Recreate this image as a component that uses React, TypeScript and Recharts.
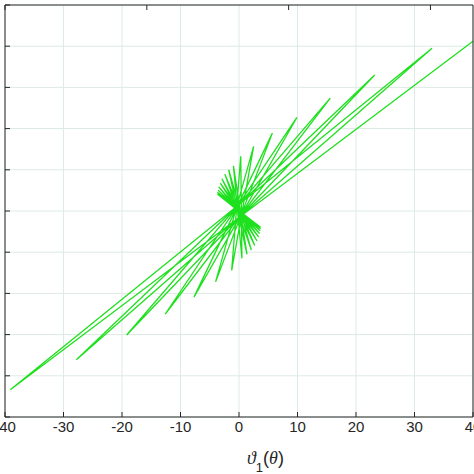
import React from "react";
import { LineChart, Line, XAxis, YAxis, CartesianGrid } from "recharts";

// turning points of the trajectory (in order)
const thetaX = [
  40.0, -39.1, 33.0, -27.8, 23.2, -19.2, 15.6, -12.6, 9.9, -7.7, 5.7, -4.0,
  2.5, -1.25, 0.3, 0.5, -0.95, 1.37, -1.76, 2.11, -2.42, 2.69, -2.93, 3.08,
  -3.2, 3.34, -3.46, 3.52, -3.57, 3.63, -3.68, 3.69, -3.7, 3.69,
];
const thetaY = [
  41.2, -43.4, 39.5, -36.1, 33.0, -30.1, 27.4, -25.0, 22.7, -20.9, 18.9,
  -17.2, 15.7, -14.4, 13.3, -11.5, 10.96, -10.5, 10.01, -9.49, 8.95, -8.39,
  7.82, -7.28, 6.74, -6.3, 5.86, -5.46, 5.06, -4.8, 4.54, -4.32, 4.11, -3.94,
];

const xTicks = [-40, -30, -20, -10, 0, 10, 20, 30, 40];
const yTicks = [-50, -40, -30, -20, -10, 0, 10, 20, 30, 40, 50];

const data = thetaX.map((x, i) => ({ x, y: thetaY[i] }));

const axisColor = "#262626";
const gridColor = "#dcebe4";

const AxisTitle = (props: any) => {
  const vb = props.viewBox || {};
  const x = vb.x + vb.width / 2 + 8;
  return (
    <text x={x} y={464} fill={axisColor} fontSize={18} fontFamily="Liberation Sans, Arial, sans-serif">
      <tspan fontFamily="Liberation Serif, serif" fontStyle="italic">ϑ</tspan>
      <tspan fontSize={13} dy={8}>1</tspan>
      <tspan dy={-8}>(</tspan>
      <tspan fontFamily="Liberation Serif, serif" fontStyle="italic">θ</tspan>
      <tspan>)</tspan>
    </text>
  );
};

const NoTick = () => <g />;

const App = () => {
  return (
    <div
      style={{
        position: "absolute",
        left: 0,
        top: 0,
        width: 474,
        height: 474,
        overflow: "hidden",
        background: "#fff",
      }}
    >
      <LineChart
        width={500}
        height={474}
        data={data}
        margin={{ top: 4, right: 26, left: 4, bottom: 0 }}
      >
        <CartesianGrid stroke={gridColor} strokeWidth={1} />
        <XAxis
          dataKey="x"
          type="number"
          domain={[-40, 40]}
          ticks={xTicks}
          interval={0}
          height={57}
          tickSize={-5}
          tickMargin={9}
          stroke={axisColor}
          tick={{ fill: axisColor, fontSize: 15, fontFamily: "Liberation Sans, Arial, sans-serif" }}
          label={{ content: (p: any) => <AxisTitle {...p} /> }}
        />
        <XAxis
          xAxisId="top"
          orientation="top"
          type="number"
          domain={[-40, 40]}
          ticks={xTicks}
          interval={0}
          height={1}
          tickSize={-5}
          stroke={axisColor}
          tick={NoTick}
        />
        <YAxis
          type="number"
          domain={[-50, 50]}
          ticks={yTicks}
          interval={0}
          width={1}
          tickSize={-5}
          stroke={axisColor}
          tick={NoTick}
        />
        <YAxis
          yAxisId="right"
          orientation="right"
          type="number"
          domain={[-50, 50]}
          ticks={yTicks}
          interval={0}
          width={1}
          tickSize={-5}
          stroke={axisColor}
          tick={NoTick}
        />
        <Line
          type="linear"
          dataKey="y"
          stroke="#1fe01f"
          strokeWidth={1.3}
          dot={false}
          isAnimationActive={false}
        />
      </LineChart>
    </div>
  );
};

export default App;
